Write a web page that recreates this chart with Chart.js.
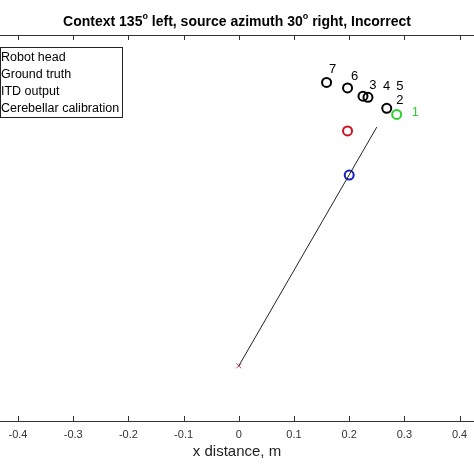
<!DOCTYPE html><html><head><style>html,body{margin:0;background:#fff}#c{display:block}</style>
<script src="https://cdn.jsdelivr.net/npm/chart.js@4"></script></head><body>
<div style="width:474px;height:474px"><canvas id="c"></canvas></div>
<script>
const xTicks=[-0.4,-0.3,-0.2,-0.1,0,0.1,0.2,0.3,0.4];
const xTickLabels=['-0.4','-0.3','-0.2','-0.1','0','0.1','0.2','0.3','0.4'];
const headPt=[{x:0,y:0}];
const groundTruth=[{x:0.197,y:0.426}];
const itdOutput=[{x:0.200,y:0.346}];
const cerebellar=[{x:0.286,y:0.456}];
const history=[{x:0.159,y:0.514},{x:0.197,y:0.504},{x:0.225,y:0.489},{x:0.234,y:0.487},{x:0.268,y:0.467}];
const dirLine=[{x:0,y:0},{x:0.25,y:0.433}];
const numLabels=[{t:'7',x:0.170,y:0.538,c:'#000'},{t:'6',x:0.210,y:0.525,c:'#000'},{t:'3',x:0.243,y:0.508,c:'#000'},{t:'4',x:0.268,y:0.506,c:'#000'},{t:'5',x:0.292,y:0.506,c:'#000'},{t:'2',x:0.292,y:0.481,c:'#000'},{t:'1',x:0.320,y:0.460,c:'#3c3'}];
const legendItems=['Robot head','Ground truth','ITD output','Cerebellar calibration'];
const deco={id:'deco',afterDraw(ch){
 const g=ch.ctx,a=ch.chartArea,xs=ch.scales.x,ys=ch.scales.y;
 g.save();g.strokeStyle='#333';g.lineWidth=1;
 g.beginPath();g.moveTo(a.left,a.top+0.5);g.lineTo(a.right,a.top+0.5);g.moveTo(a.left,a.bottom+0.5);g.lineTo(a.right,a.bottom+0.5);
 xTicks.forEach(v=>{const p=Math.round(xs.getPixelForValue(v))+0.5;g.moveTo(p,a.top);g.lineTo(p,a.top+5);g.moveTo(p,a.bottom);g.lineTo(p,a.bottom-5);});
 g.stroke();
 g.fillStyle='#333';g.font='11px Arial, "Liberation Sans"';g.textAlign='center';g.textBaseline='top';
 xTicks.forEach((v,i)=>g.fillText(xTickLabels[i],xs.getPixelForValue(v),a.bottom+8));
 g.font='15px Arial, "Liberation Sans"';g.fillStyle='#222';g.fillText('x distance, m',(a.left+a.right)/2,a.bottom+23);
 g.font='13px Arial, "Liberation Sans"';g.textBaseline='middle';
 numLabels.forEach(l=>{g.fillStyle=l.c;g.fillText(l.t,xs.getPixelForValue(l.x),ys.getPixelForValue(l.y));});
 g.strokeStyle='#222';g.lineWidth=1;g.strokeRect(0.5,47.5,122,70);
 g.fillStyle='#000';g.font='12.5px Arial, "Liberation Sans"';g.textAlign='left';
 legendItems.forEach((t,i)=>g.fillText(t,1,58+i*17));
 const parts=[['Context 135',0],['o',1],[' left, source azimuth 30',0],['o',1],[' right, Incorrect',0]];
 const fN='bold 14px Arial, "Liberation Sans"',fS='bold 9px Arial, "Liberation Sans"';
 let w=0;parts.forEach(p=>{g.font=p[1]?fS:fN;w+=g.measureText(p[0]).width;});
 let x=237-w/2;g.textBaseline='alphabetic';
 parts.forEach(p=>{g.font=p[1]?fS:fN;g.fillText(p[0],x,p[1]?19:26);x+=g.measureText(p[0]).width;});
 g.restore();}};
new Chart(document.getElementById('c'),{type:'scatter',
 data:{datasets:[
  {data:dirLine,showLine:true,borderColor:'#222',borderWidth:1,pointRadius:0},
  {data:headPt,pointStyle:'crossRot',pointRadius:3.5,borderColor:'#d04060',borderWidth:1},
  {data:history,pointRadius:4.5,borderColor:'#000',backgroundColor:'transparent',borderWidth:2},
  {data:groundTruth,pointRadius:4.5,borderColor:'#d01020',backgroundColor:'transparent',borderWidth:2},
  {data:itdOutput,pointRadius:4.5,borderColor:'#1020c0',backgroundColor:'transparent',borderWidth:2},
  {data:cerebellar,pointRadius:4.5,borderColor:'#30d030',backgroundColor:'transparent',borderWidth:2}
 ]},
 options:{responsive:true,maintainAspectRatio:false,animation:false,layout:{autoPadding:false,padding:{left:0,right:0,top:35,bottom:53}},
  plugins:{legend:{display:false},tooltip:{enabled:false}},
  scales:{x:{type:'linear',min:-0.4326,max:0.4261,display:false},y:{type:'linear',min:-0.1,max:0.6,display:false}}},
 plugins:[deco]});
</script></body></html>
